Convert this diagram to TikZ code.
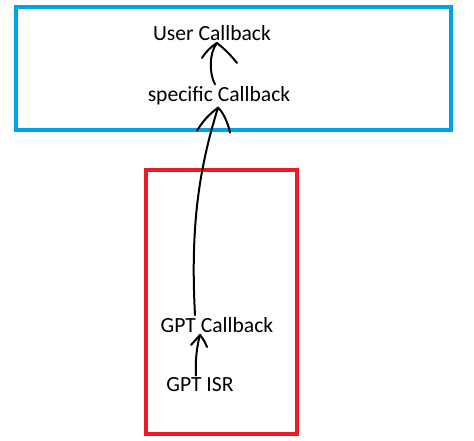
\documentclass[tikz,border=0pt]{standalone}
\usepackage{fontspec}
\setmainfont{Carlito}
\usepackage{tikz}
\usetikzlibrary{positioning}

\definecolor{paintblue}{RGB}{0,162,232}
\definecolor{paintred}{RGB}{237,28,36}

\begin{document}
\begin{tikzpicture}[
    x=0.5pt, y=-0.5pt,
    label/.style={inner sep=1pt, font=\fontsize{10.8}{13}\selectfont},
    frame/.style={rectangle, line width=2pt, inner sep=0pt},
    pen/.style={line width=1pt, black, line cap=round, line join=round}
]
\useasboundingbox (0,0) rectangle (474,440);

% frames
\node[frame, draw=paintblue, minimum width=217.5pt, minimum height=61.5pt] (upper) at (233.5,68.5) {};
\node[frame, draw=paintred, line width=1.8pt, minimum width=75.5pt, minimum height=132pt] (lower) at (221.5,302) {};

% labels
\node[label] (user)     at (212,33)  {User Callback};
\node[label] (specific) at (219,96)  {specific Callback};
\node[label] (gptcb)    at (217,325) {GPT Callback};
\node[label] (isr)      at (200,385) {GPT ISR};

% specific -> user
\draw[pen] ([xshift=-2pt]specific.north) .. controls +(-6,-11) and +(-8,10) .. ([xshift=2.5pt]user.south) coordinate (tipa);
\draw[pen] (tipa) to[bend right=12] ++(-15,15);
\draw[pen] (tipa) to[bend left=6] ++(20,20);

% gpt callback -> specific
\draw[pen] ([xshift=-11pt]gptcb.north) .. controls +(-5,-92) and +(-18,58) .. ([xshift=-0.5pt]specific.south) coordinate (tipb);
\draw[pen] (tipb) to[bend right=10] ++(-21,23);
\draw[pen] (tipb) .. controls +(6,5) and +(-1,-6) .. ++(12,25);

% isr -> gpt callback
\draw[pen] ([xshift=-2pt]isr.north) .. controls +(-1,-14) and +(-3,10) .. ([xshift=-8.5pt]gptcb.south) coordinate (tipc);
\draw[pen] (tipc) -- ++(-9,10);
\draw[pen] (tipc) to[bend left=8] ++(7,12);
\end{tikzpicture}
\end{document}
